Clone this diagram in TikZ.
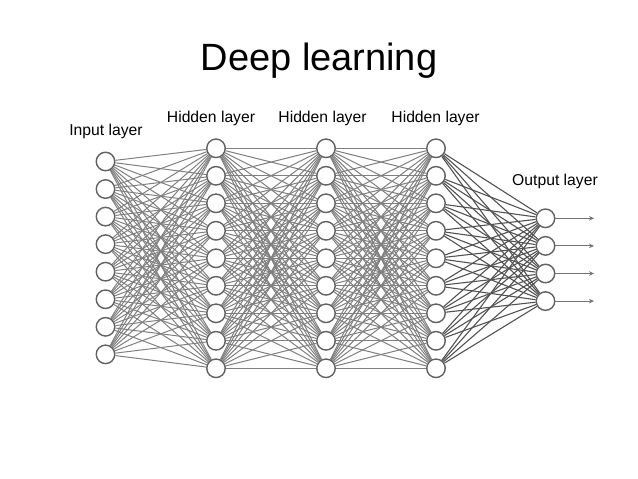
\documentclass[tikz,border=0pt]{standalone}
\usepackage{fontspec}
\setmainfont{Liberation Sans}
\usetikzlibrary{backgrounds,arrows.meta}
\tikzset{
  neuron/.style={circle, draw=black!62, fill=white, line width=1.4pt, minimum size=18.5pt, inner sep=0pt},
  link/.style={draw=black!50, line width=1pt},
  outlink/.style={draw=black!68, line width=1.1pt},
  outarrow/.style={draw=black!55, line width=1.1pt, -{Stealth[length=5pt,width=4.5pt]}},
  lbl/.style={font=\fontsize{15.7}{17}\selectfont, text=black},
  ttl/.style={font=\fontsize{38}{40}\selectfont, text=black}
}
\begin{document}
\begin{tikzpicture}[x=1pt,y=-1pt]
\useasboundingbox (0,0) rectangle (638,479);
\node[ttl] (title) at (319,61) {Deep learning};
\node[lbl] (linput) at (106,131) {Input layer};
\node[lbl] (lh1) at (211,118) {Hidden layer};
\node[lbl] (lh2) at (322.5,118) {Hidden layer};
\node[lbl] (lh3) at (435.5,118) {Hidden layer};
\node[lbl] (lout) at (555,181) {Output layer};
% nodes
\foreach \k in {1,...,8} { \node[neuron] (i\k) at (105.5,{161.5+(\k-1)*27.55}) {}; }
\foreach \k in {1,...,9} {
  \node[neuron] (a\k) at (216,{148.3+(\k-1)*27.5}) {};
  \node[neuron] (b\k) at (326,{148.3+(\k-1)*27.5}) {};
  \node[neuron] (c\k) at (436,{148.3+(\k-1)*27.5}) {};
}
\foreach \k in {1,...,4} {
  \node[neuron] (o\k) at (545.5,{218.3+(\k-1)*27.6}) {};
  \coordinate (e\k) at (594,{218.3+(\k-1)*27.6});
  \draw[outarrow] (o\k) -- (e\k);
}
\begin{pgfonlayer}{background}
\foreach \s in {1,...,8} \foreach \t in {1,...,9} { \draw[link] (i\s) -- (a\t); }
\foreach \s in {1,...,9} \foreach \t in {1,...,9} {
  \draw[link] (a\s) -- (b\t);
  \draw[link] (b\s) -- (c\t);
}
\foreach \s in {1,...,9} \foreach \t in {1,...,4} { \draw[outlink] (c\s) -- (o\t); }
\end{pgfonlayer}
\end{tikzpicture}
\end{document}
